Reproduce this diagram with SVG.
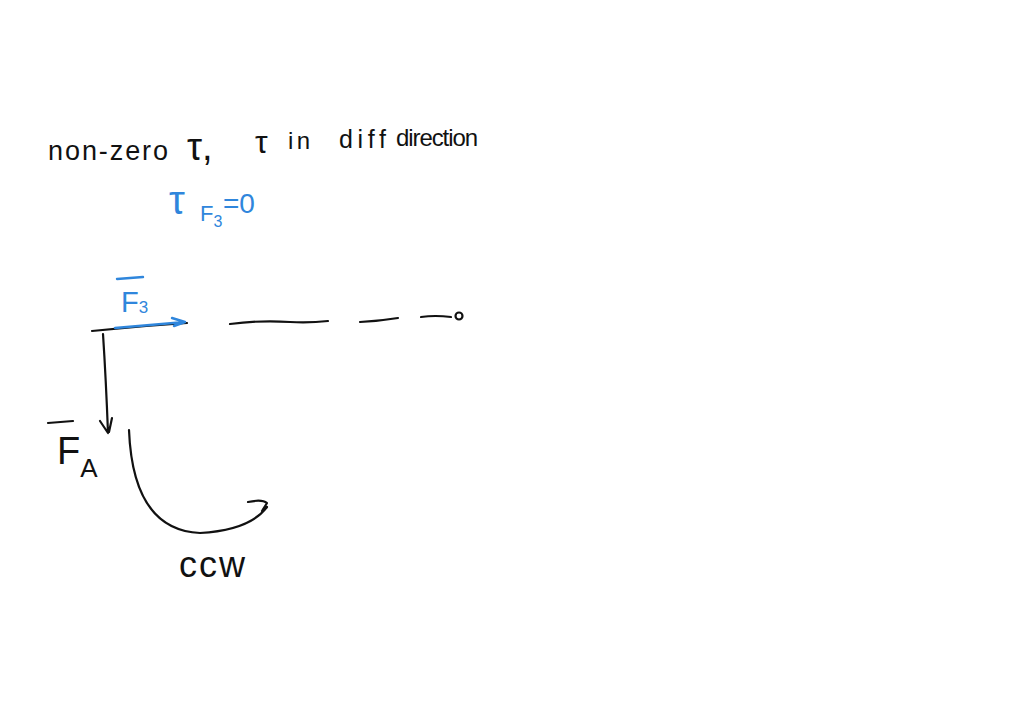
<svg xmlns="http://www.w3.org/2000/svg" width="1024" height="712" viewBox="0 0 1024 712">
<style>
.ink{fill:none;stroke:#111;stroke-width:2.2;stroke-linecap:round;stroke-linejoin:round}
.blue{fill:none;stroke:#2f86dc;stroke-width:2.4;stroke-linecap:round;stroke-linejoin:round}
.t{font-family:"Liberation Sans","DejaVu Sans",sans-serif;fill:#111}
.tb{font-family:"Liberation Sans","DejaVu Sans",sans-serif;fill:#2f86dc}
</style>
<rect width="1024" height="712" fill="#fff"/>
<g id="title">
<text class="t" x="48" y="160" font-size="27" textLength="120" lengthAdjust="spacing">non-zero</text>
<text class="t" x="187" y="160" font-size="38">τ,</text>
<text class="t" x="255" y="153" font-size="32">τ</text>
<text class="t" x="288" y="149" font-size="24" textLength="22" lengthAdjust="spacing">in</text>
<text class="t" x="339" y="148" font-size="25" textLength="47" lengthAdjust="spacing">diff</text>
<text class="t" x="396" y="146" font-size="24" textLength="82" lengthAdjust="spacing">direction</text>
</g>
<g id="torque-label">
<text class="tb" x="169" y="214" font-size="40">τ</text>
<text class="tb" x="200" y="221" font-size="22">F<tspan font-size="16" dy="6">3</tspan></text>
<text class="tb" x="223" y="213" font-size="28">=0</text>
</g>
<g id="lever">
<path class="ink" d="M92 331 Q140 326 187 323"/>
<path class="ink" d="M230 324 Q260 320 290 322 Q310 323 328 321"/>
<path class="ink" d="M360 322 Q380 321 398 318"/>
<path class="ink" d="M421 317 Q435 315 451 317"/>
<circle cx="459" cy="316" r="3.5" fill="none" stroke="#111" stroke-width="2.2"/>
</g>
<g id="F3">
<path class="blue" d="M117 279 L143 277"/>
<text class="tb" x="121" y="312" font-size="29">F<tspan font-size="17" dy="1">3</tspan></text>
<path class="blue" d="M115 328 L185 322 M172 318 L185 322 L174 326"/>
</g>
<g id="FA">
<path class="ink" d="M103 334 Q106 380 108 433 M100 421 L108 433 M112 418 L109 432"/>
<path class="ink" d="M48 423 L73 421"/>
<text class="t" x="57" y="464" font-size="38">F<tspan font-size="26" dy="13">A</tspan></text>
</g>
<g id="ccw">
<path class="ink" d="M129 430 Q133 530 200 533 Q250 530 267 507 M248 502 Q262 499 267 503 L262 511"/>
<text class="t" x="179" y="577" font-size="36" textLength="66" lengthAdjust="spacing">ccw</text>
</g>
</svg>
